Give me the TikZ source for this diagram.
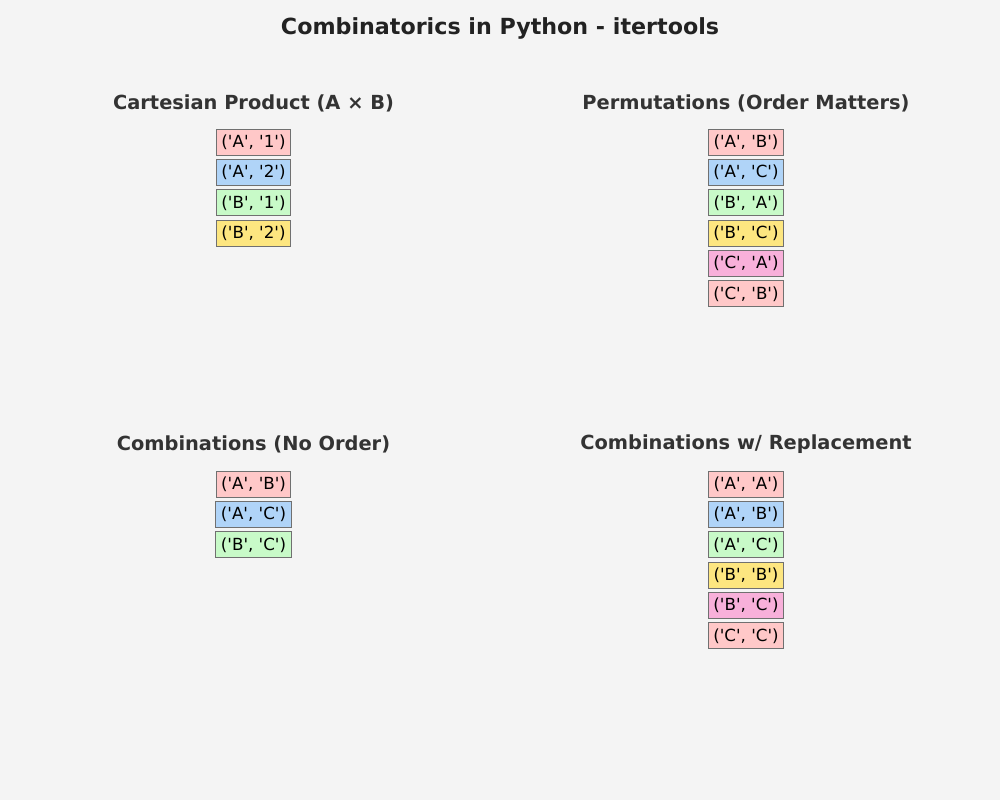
\documentclass[tikz,border=0pt]{standalone}
\usepackage{fontspec}
\setmainfont{DejaVu Sans}[Ligatures=TeXOff]
\newcommand{\tup}[2]{('#1', '#2')}
\definecolor{bg}{HTML}{F4F4F4}
\definecolor{cA}{HTML}{FFC8C8}
\definecolor{cB}{HTML}{B0D4F8}
\definecolor{cC}{HTML}{C8FAC8}
\definecolor{cD}{HTML}{FDE680}
\definecolor{cE}{HTML}{F8B0DA}
\definecolor{edge}{HTML}{707070}
\definecolor{titlec}{HTML}{222222}
\definecolor{subc}{HTML}{333333}
\tikzset{
  item/.style={draw=edge, line width=1pt, inner xsep=5pt, inner ysep=0pt,
    minimum height=26pt, text height=12.8pt, text depth=2.2pt,
    font=\fontsize{16.7}{18}\selectfont, text=black},
  subtitle/.style={font=\fontsize{19.4}{22}\selectfont\bfseries, text=subc},
  maintitle/.style={font=\fontsize{22.2}{25}\selectfont\bfseries, text=titlec}
}
\begin{document}
\begin{tikzpicture}[x=1pt,y=-1pt]
\fill[bg] (0,0) rectangle (1000,800);
\useasboundingbox (0,0) rectangle (1000,800);
\node[maintitle] (title) at (500,28.5) {Combinatorics in Python - itertools};
% Cartesian
\node[subtitle] (t1) at (253.5,103) {Cartesian Product (A × B)};
\node[item, fill=cA] (p1) at (253.5,142) {\tup{A}{1}};
\node[item, fill=cB] (p2) at (253.5,172.3) {\tup{A}{2}};
\node[item, fill=cC] (p3) at (253.5,202.7) {\tup{B}{1}};
\node[item, fill=cD] (p4) at (253.5,233) {\tup{B}{2}};
% Permutations
\node[subtitle] (t2) at (746,103) {Permutations (Order Matters)};
\node[item, fill=cA] (q1) at (746,142) {\tup{A}{B}};
\node[item, fill=cB] (q2) at (746,172.3) {\tup{A}{C}};
\node[item, fill=cC] (q3) at (746,202.7) {\tup{B}{A}};
\node[item, fill=cD] (q4) at (746,233) {\tup{B}{C}};
\node[item, fill=cE] (q5) at (746,263.3) {\tup{C}{A}};
\node[item, fill=cA] (q6) at (746,293.7) {\tup{C}{B}};
% Combinations
\node[subtitle] (t3) at (253.5,444) {Combinations (No Order)};
\node[item, fill=cA] (r1) at (253.5,484) {\tup{A}{B}};
\node[item, fill=cB] (r2) at (253.5,514.3) {\tup{A}{C}};
\node[item, fill=cC] (r3) at (253.5,544.7) {\tup{B}{C}};
% Combinations w/ replacement
\node[subtitle] (t4) at (746,444) {Combinations w/ Replacement};
\node[item, fill=cA] (s1) at (746,484) {\tup{A}{A}};
\node[item, fill=cB] (s2) at (746,514.3) {\tup{A}{B}};
\node[item, fill=cC] (s3) at (746,544.7) {\tup{A}{C}};
\node[item, fill=cD] (s4) at (746,575) {\tup{B}{B}};
\node[item, fill=cE] (s5) at (746,605.3) {\tup{B}{C}};
\node[item, fill=cA] (s6) at (746,635.7) {\tup{C}{C}};
\end{tikzpicture}
\end{document}
